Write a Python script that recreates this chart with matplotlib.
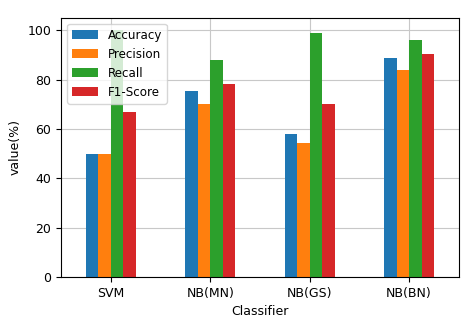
import matplotlib
matplotlib.use('Agg')
import matplotlib.pyplot as plt
import numpy as np

classifiers = ['SVM', 'NB(MN)', 'NB(GS)', 'NB(BN)']
accuracy = [50.0, 75.6, 58.1, 88.9]
precision = [50.0, 70.2, 54.3, 84.1]
recall = [100.0, 88.1, 99.1, 96.2]
f1_score = [66.7, 78.3, 70.2, 90.5]

series = [('Accuracy', accuracy, '#1f77b4'),
          ('Precision', precision, '#ff7f0e'),
          ('Recall', recall, '#2ca02c'),
          ('F1-Score', f1_score, '#d62728')]

plt.rcParams['font.size'] = 9
fig = plt.figure(figsize=(4.74, 3.23), dpi=100)
ax = fig.add_axes([0.129, 0.143, 0.839, 0.801])

x = np.arange(len(classifiers))
w = 0.125
for i, (name, vals, c) in enumerate(series):
    ax.bar(x + (i - 1.5) * w, vals, w, color=c, label=name, zorder=2)

ax.set_xticks(x)
ax.set_xticklabels(classifiers)
ax.set_xlim(-0.5, 3.5)
ax.set_ylim(0, 105)
ax.set_xlabel('Classifier')
ax.set_ylabel('value(%)')
ax.grid(True, color='#c8c8c8', zorder=0)
ax.legend(loc='upper left', fontsize=8.6, handlelength=2.2)

plt.savefig('out.png', dpi=100)
